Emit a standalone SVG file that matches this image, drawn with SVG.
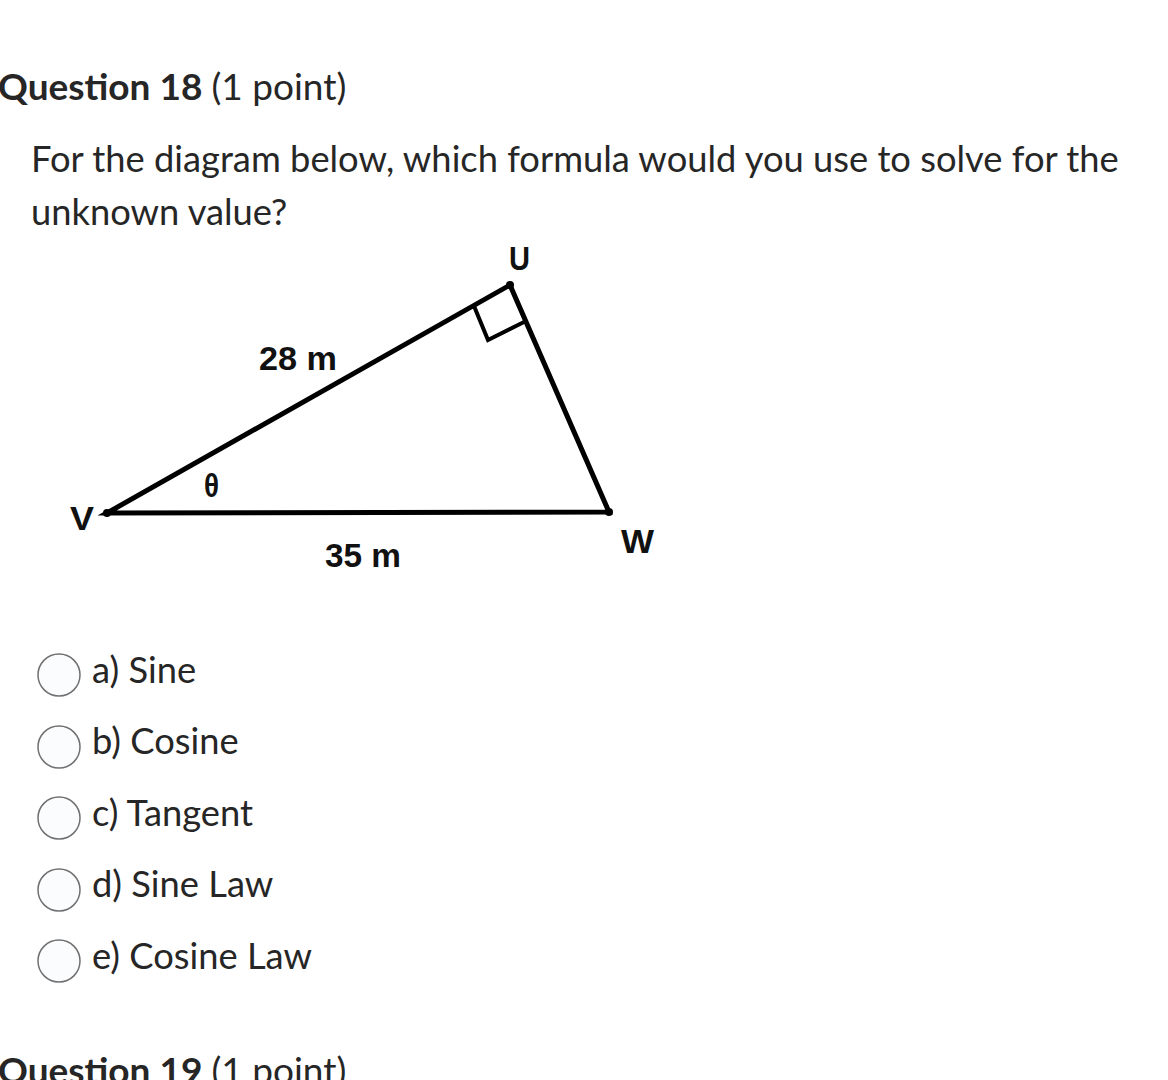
<svg xmlns="http://www.w3.org/2000/svg" width="1168" height="1080" viewBox="0 0 1168 1080">
<style>
.t{font-family:Lato,"Liberation Sans",sans-serif;fill:#262626;font-size:36.3px}
.h{font-family:Lato,"Liberation Sans",sans-serif;fill:#262626;font-size:37px;font-weight:bold}
.hn{font-weight:normal}
.lbl{font-family:"Liberation Sans Narrow","Liberation Sans",sans-serif;font-weight:bold;fill:#111;font-size:33px}
.edge{stroke:#000;stroke-width:5;fill:none;stroke-linecap:round}
.radio{fill:#fbfcfd;stroke:#707070;stroke-width:1.5}
</style>
<rect width="1168" height="1080" fill="#fff"/>
<text class="h" x="-2" y="100">Question 18 <tspan class="hn">(1 point)</tspan></text>
<text class="t" x="31" y="172">For the diagram below, which formula would you use to solve for the</text>
<text class="t" x="31" y="225">unknown value?</text>
<g id="connectors">
<path class="edge" d="M107 513 L510 285 L609 512 Z"/>
<path stroke="#000" stroke-width="4" fill="none" d="M474 306 L488 340 L524 322"/>
</g>
<g id="V"><circle cx="107" cy="513" r="4"/><text class="lbl" x="70" y="530" font-size="30" textLength="24" lengthAdjust="spacingAndGlyphs">V</text></g>
<g id="U"><circle cx="510" cy="285" r="4"/><text class="lbl" x="509" y="270" font-size="30" textLength="21" lengthAdjust="spacingAndGlyphs">U</text></g>
<g id="W"><circle cx="609" cy="512" r="4"/><text class="lbl" x="621" y="553" font-size="30" textLength="33" lengthAdjust="spacingAndGlyphs">W</text></g>
<text class="lbl" x="259" y="370" textLength="78" lengthAdjust="spacingAndGlyphs">28 m</text>
<text class="lbl" x="325" y="567" textLength="76" lengthAdjust="spacingAndGlyphs">35 m</text>
<text class="lbl" x="204" y="497" font-weight="normal" font-size="28" textLength="15" lengthAdjust="spacingAndGlyphs">θ</text>
<g id="options">
<circle class="radio" cx="59" cy="675" r="21"/><text class="t" x="92" y="683">a) Sine</text>
<circle class="radio" cx="59" cy="747" r="21"/><text class="t" x="92" y="754">b) Cosine</text>
<circle class="radio" cx="59" cy="818" r="21"/><text class="t" x="92" y="826">c) Tangent</text>
<circle class="radio" cx="59" cy="890" r="21"/><text class="t" x="92" y="897">d) Sine Law</text>
<circle class="radio" cx="59" cy="961" r="21"/><text class="t" x="92" y="969">e) Cosine Law</text>
</g>
<text class="h" x="-2" y="1084">Question 19 <tspan class="hn">(1 point)</tspan></text>
</svg>
